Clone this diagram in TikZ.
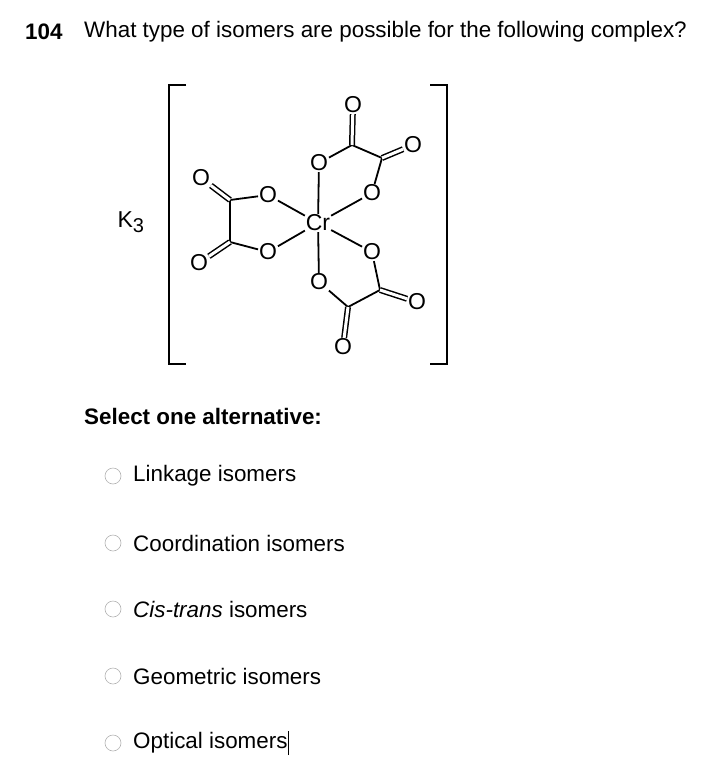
\documentclass[tikz,border=0pt]{standalone}
\usepackage{fontspec}
\setmainfont{Liberation Sans}
\begin{document}
\begin{tikzpicture}[x=1pt,y=-1pt,
  atom/.style={inner sep=0.8pt,font=\fontsize{23}{23}\selectfont},
  bond/.style={line width=1.8pt},
  dbl/.style={line width=1.5pt,double distance=3pt},
  txt/.style={anchor=west,inner sep=0pt,font=\fontsize{22.4}{26}\selectfont},
  radio/.style={circle,draw=gray!60,line width=0.6pt,minimum size=16pt,inner sep=0pt}]
\useasboundingbox (0,0) rectangle (714,772);
\node[txt,font=\fontsize{22.4}{26}\selectfont\bfseries] (num) at (25,32) {104};
\node[txt] (q) at (84,32) {What type of isomers are possible for the following complex?};
\node[atom] (k) at (131,222) {K\textsubscript{\fontsize{20}{20}\selectfont 3}};
\node[atom] (cr) at (318,223) {Cr};
\node[atom] (o1) at (268,195) {O};
\node[atom] (o2) at (268,252) {O};
\node[atom] (o3) at (319,163) {O};
\node[atom] (o4) at (372,193) {O};
\node[atom] (o5) at (319,282) {O};
\node[atom] (o6) at (372,252) {O};
\node[atom] (d1) at (201,178) {O};
\node[atom] (d2) at (199,263) {O};
\node[atom] (d3) at (353,105) {O};
\node[atom] (d4) at (413,145) {O};
\node[atom] (d5) at (343,347) {O};
\node[atom] (d6) at (417,302) {O};
\coordinate (c1) at (230,200);
\coordinate (c2) at (230,242);
\coordinate (c3) at (352,145);
\coordinate (c4) at (382,158);
\coordinate (c5) at (348,307);
\coordinate (c6) at (380,290);
\draw[bond] (cr)--(o1) (cr)--(o2) (cr)--(o3) (cr)--(o4) (cr)--(o5) (cr)--(o6);
\draw[bond] (o1)--(c1)--(c2)--(o2);
\draw[bond] (o3)--(c3)--(c4)--(o4);
\draw[bond] (o5)--(c5)--(c6)--(o6);
\draw[dbl] (c1)--(d1); \draw[dbl] (c2)--(d2);
\draw[dbl] (c3)--(d3); \draw[dbl] (c4)--(d4);
\draw[dbl] (c5)--(d5); \draw[dbl] (c6)--(d6);
\draw[line width=2pt] (186,85)--(169,85)--(169,364)--(186,364);
\draw[line width=2pt] (430,85)--(447,85)--(447,364)--(430,364);
\node[txt,font=\fontsize{22.4}{26}\selectfont\bfseries] (sel) at (84,416) {Select one alternative:};
\node[radio] (r1) at (113,476) {};
\node[txt] (t1) at (133,476) {Linkage isomers};
\node[radio] (r2) at (113,543) {};
\node[txt] (t2) at (133,543) {Coordination isomers};
\node[radio] (r3) at (113,609) {};
\node[txt] (t3) at (133,609) {\textit{Cis-trans} isomers};
\node[radio] (r4) at (113,676) {};
\node[txt] (t4) at (133,676) {Geometric isomers};
\node[radio] (r5) at (113,743) {};
\node[txt] (t5) at (133,743) {Optical isomers};
\coordinate (cur) at ([xshift=1pt]t5.east);
\draw[line width=1pt] ([yshift=-12pt]cur)--([yshift=12pt]cur);
\end{tikzpicture}
\end{document}
